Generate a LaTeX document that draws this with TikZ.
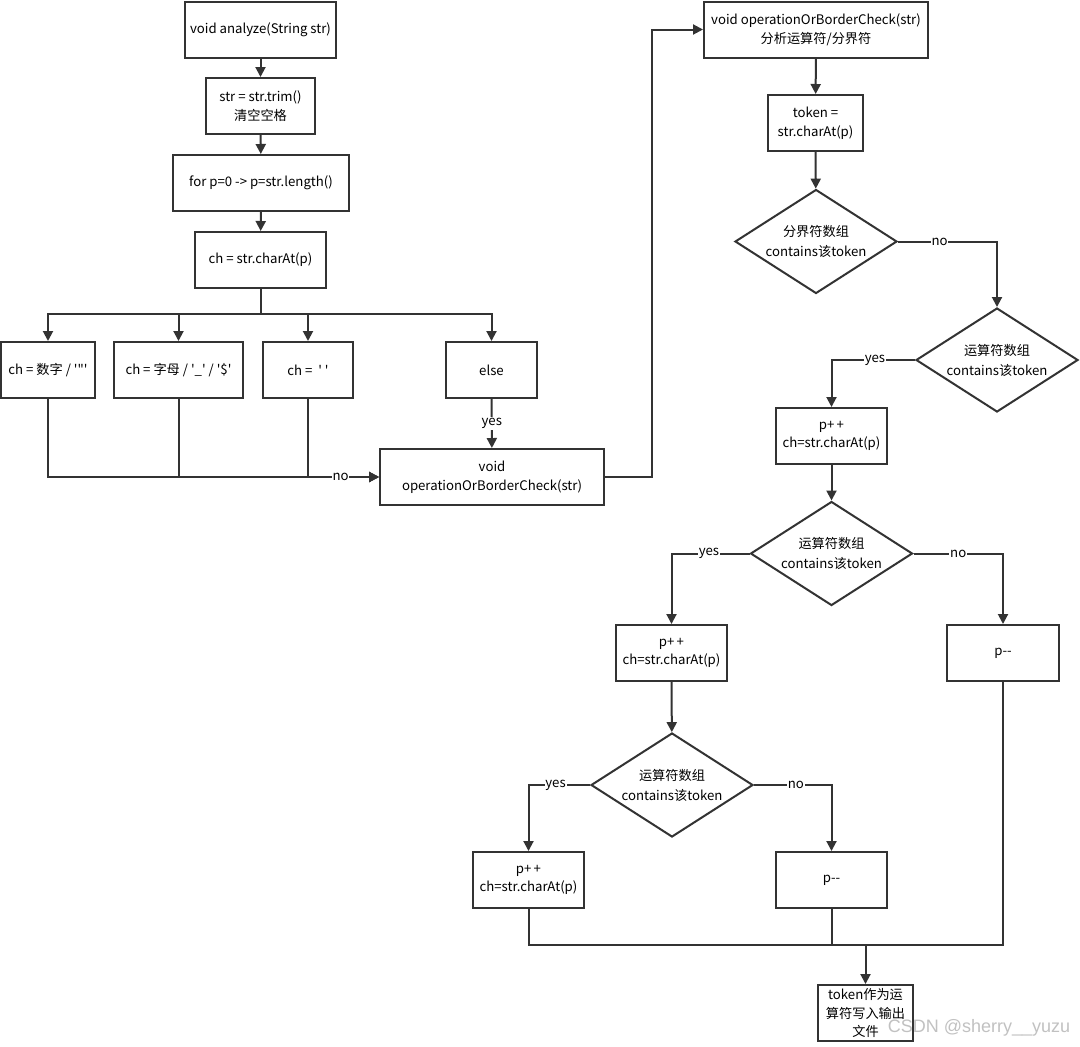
\documentclass[tikz,border=0pt]{standalone}
\usepackage{fontspec}
\newfontfamily\cnfont{Noto Sans CJK SC}
\newfontfamily\markfont{Liberation Sans}
\usetikzlibrary{shapes.geometric, arrows.meta, positioning}
\definecolor{linegray}{HTML}{333333}

\begin{document}
\begin{tikzpicture}[
    x=0.75pt, y=-0.75pt,
    >={Triangle[length=7.5pt, width=7.5pt]},
    stepbox/.style={draw=linegray, line width=1.5pt, rectangle, minimum height=42pt, align=center, inner sep=2pt, font=\cnfont\fontsize{9.9}{14}\selectfont},
    decision/.style={draw=linegray, line width=1.5pt, diamond, aspect=1.56, minimum width=121.5pt, minimum height=78pt, inner sep=0pt, align=center, font=\cnfont\fontsize{9.9}{15}\selectfont},
    flow/.style={draw=linegray, line width=1.5pt, ->},
    link/.style={draw=linegray, line width=1.5pt},
    lbl/.style={fill=white, inner sep=0.6pt, font=\cnfont\fontsize{9.9}{12}\selectfont}
]

\fill[white, use as bounding box] (0,0) rectangle (1080,1046);

% Left column
\node[stepbox, minimum width=113pt] (analyze) at (260.5,29.5) {void analyze(String str)};
\node[stepbox, minimum width=82pt] (trim) at (260.5,106) {str = str.trim()\\清空空格};
\node[stepbox, minimum width=132pt] (loop) at (261,183) {for p=0 -> p=str.length()};
\node[stepbox, minimum width=98pt] (read) at (260.5,260) {ch = str.charAt(p)};

% Cases of ch
\node[stepbox, minimum width=70.5pt] (digit) at (48,370) {ch = 数字 / '"'};
\node[stepbox, minimum width=97pt] (letter) at (178.5,370) {ch = 字母 / '\_' / '\$'};
\node[stepbox, minimum width=67.5pt] (blank) at (308,370) {ch =~~' '};
\node[stepbox, minimum width=68pt] (other) at (491.5,370) {else};
\node[stepbox, minimum width=168pt] (check) at (492,477) {void\\operationOrBorderCheck(str)};

% Right column
\node[stepbox, minimum width=168pt] (opcheck) at (816,29.5) {void operationOrBorderCheck(str)\\分析运算符/分界符};
\node[stepbox, minimum width=71pt] (token) at (815.5,123) {token =\\str.charAt(p)};
\node[decision] (border) at (816,241.5) {分界符数组\\contains该token};
\node[decision] (oper) at (997,360) {运算符数组\\contains该token};
\node[stepbox, minimum width=83pt] (next1) at (831.5,436) {p+\,+\\ch=str.charAt(p)};
\node[decision] (oper2) at (831.5,553.5) {运算符数组\\contains该token};
\node[stepbox, minimum width=83pt] (next2) at (671.5,653) {p+\,+\\ch=str.charAt(p)};
\node[stepbox, minimum width=84pt] (back1) at (1003,653) {p-{}-};
\node[decision] (oper3) at (672,785) {运算符数组\\contains该token};
\node[stepbox, minimum width=83pt] (next3) at (528.5,880) {p+\,+\\ch=str.charAt(p)};
\node[stepbox, minimum width=83pt] (back2) at (831.5,880) {p-{}-};
\node[stepbox, minimum width=71pt] (write) at (865.5,1013) {token作为运\\算符写入输出\\文件};

% Connectors, left part
\draw[flow] (analyze) -- (trim);
\draw[flow] (trim) -- (loop);
\draw[flow] (loop) -- (read);
\coordinate (fork) at (260.5,314);
\foreach \c in {digit, letter, blank, other}
    \draw[flow] (read.south) -- (fork) -| (\c.north);
\draw[flow] (digit.south) |- (check.west);
\draw[flow] (letter.south) |- (check.west);
\draw[flow] (blank.south) |- node[lbl, pos=0.73] {no} (check.west);
\draw[flow] (other) -- node[lbl] {yes} (check);
\coordinate (jump) at (652,477);
\draw[flow] (check.east) -- (jump) |- (opcheck.west);

% Connectors, right part
\draw[flow] (opcheck) -- (token);
\draw[flow] (token) -- (border);
\draw[flow] (border.east) -| node[lbl, pos=0.21] {no} (oper.north);
\draw[flow] (oper.west) -| node[lbl, pos=0.24] {yes} (next1.north);
\draw[flow] (next1) -- (oper2);
\draw[flow] (oper2.west) -| node[lbl, pos=0.26] {yes} (next2.north);
\draw[flow] (oper2.east) -| node[lbl, pos=0.25] {no} (back1.north);
\draw[flow] (next2) -- (oper3);
\draw[flow] (oper3.west) -| node[lbl, pos=0.28] {yes} (next3.north);
\draw[flow] (oper3.east) -| node[lbl, pos=0.27] {no} (back2.north);

% Merge into output
\coordinate (join) at (865.5,945);
\draw[link] (next3.south) |- (join);
\draw[link] (back2.south) |- (join);
\draw[link] (back1.south) |- (join);
\draw[flow] (join) -- (write.north);

% Watermark
\node[text=gray!60, text opacity=0.8, font=\markfont\fontsize{13.5}{16}\selectfont] (mark) at (979,1028) {CSDN @sherry\_\_yuzu};

\end{tikzpicture}
\end{document}
